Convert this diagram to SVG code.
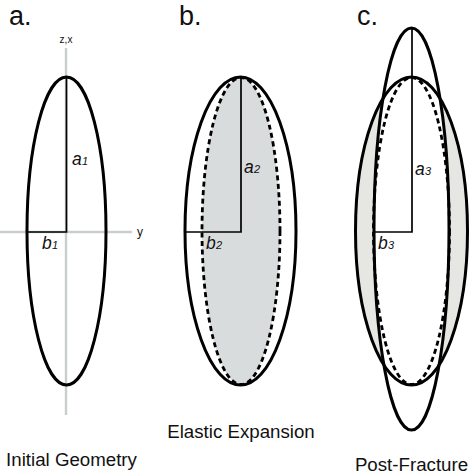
<svg xmlns="http://www.w3.org/2000/svg" width="474" height="476" viewBox="0 0 474 476">
<style>
.ell{fill:none;stroke:#000;stroke-width:3}
.dash{fill:none;stroke:#000;stroke-width:2.8;stroke-dasharray:5 3.5}
.ln{stroke:#000;stroke-width:1.7;fill:none}
.ax{stroke:#c9cdcd;stroke-width:2.4;fill:none}
.t{font-family:"Liberation Sans",Arial,sans-serif;fill:#111}
.head{font-size:27px}
.cap{font-size:18.7px;text-anchor:middle}
.lab{font-style:italic;font-size:17.5px}
.sub{font-style:italic;font-size:11px}
</style>
<rect width="474" height="476" fill="#fff"/>
<g id="panel-a">
<text class="t head" x="9" y="25">a.</text>
<line class="ax" x1="66" y1="48" x2="66" y2="415"/>
<line class="ax" x1="0" y1="232" x2="132" y2="232"/>
<text class="t" x="66" y="43" font-size="10" text-anchor="middle">z,x</text>
<text class="t" x="137" y="236" font-size="12">y</text>
<ellipse class="ell" cx="66.5" cy="231" rx="39.5" ry="154"/>
<polyline class="ln" points="66.5,77 66.5,232 27,232"/>
<text class="t lab" x="72" y="165">a</text><text class="t sub" x="82" y="165">1</text>
<text class="t lab" x="42" y="249">b</text><text class="t sub" x="52" y="249">1</text>
<text class="t cap" x="71.5" y="466">Initial Geometry</text>
</g>
<g id="panel-b">
<text class="t head" x="179" y="25">b.</text>
<ellipse cx="241" cy="231" rx="39" ry="153.5" fill="#d9dcdd"/>
<ellipse class="dash" cx="241" cy="231" rx="39" ry="153.5"/>
<ellipse class="ell" cx="240.5" cy="231" rx="55.5" ry="154"/>
<polyline class="ln" points="241,77 241,232 185,232"/>
<text class="t lab" x="244" y="173">a</text><text class="t sub" x="254" y="173">2</text>
<text class="t lab" x="206" y="249">b</text><text class="t sub" x="216" y="249">2</text>
<text class="t cap" x="241" y="438">Elastic Expansion</text>
</g>
<g id="panel-c">
<text class="t head" x="357" y="25">c.</text>
<ellipse cx="411.5" cy="231" rx="56" ry="154" fill="#e6e7e3"/>
<ellipse cx="411.5" cy="229" rx="37.5" ry="201" fill="#fff"/>
<ellipse class="dash" cx="411.5" cy="231" rx="38" ry="153.5"/>
<ellipse class="ell" cx="411.5" cy="231" rx="56" ry="154"/>
<ellipse class="ell" cx="411.5" cy="229" rx="37.5" ry="201"/>
<polyline class="ln" points="412,28 412,232 374,232"/>
<text class="t lab" x="415" y="175">a</text><text class="t sub" x="425" y="175">3</text>
<text class="t lab" x="378" y="249">b</text><text class="t sub" x="388" y="249">3</text>
<text class="t cap" x="411.5" y="471">Post-Fracture</text>
</g>
</svg>
